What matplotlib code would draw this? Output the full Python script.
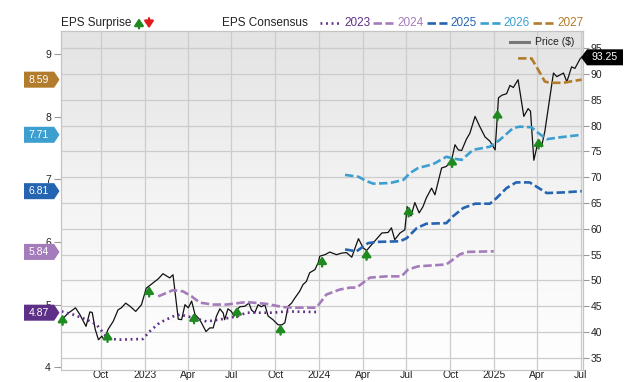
import numpy as np
import pandas as pd
import matplotlib
matplotlib.use('Agg')
import matplotlib.pyplot as plt
import matplotlib.dates as mdates
from matplotlib.lines import Line2D
from matplotlib.patches import Polygon
from matplotlib.colors import LinearSegmentedColormap

plt.rcParams['font.family'] = ['Liberation Sans', 'DejaVu Sans']

# ---- data ----
price_dates = ['2022-07-11', '2022-07-24', '2022-08-09', '2022-08-18', '2022-08-31', '2022-09-08',
               '2022-09-13', '2022-09-19', '2022-09-26', '2022-10-03', '2022-10-08', '2022-10-16',
               '2022-10-27', '2022-11-06', '2022-11-13', '2022-11-22', '2022-12-01', '2022-12-13',
               '2022-12-25', '2023-01-04', '2023-01-11', '2023-01-22', '2023-01-29', '2023-02-08',
               '2023-02-15', '2023-02-22', '2023-03-01', '2023-03-12', '2023-03-19', '2023-03-26',
               '2023-04-02', '2023-04-09', '2023-04-16', '2023-04-26', '2023-05-09', '2023-05-17',
               '2023-05-24', '2023-05-31', '2023-06-07', '2023-06-14', '2023-06-17', '2023-06-24',
               '2023-07-01', '2023-07-07', '2023-07-12', '2023-07-19', '2023-07-29', '2023-08-07',
               '2023-08-12', '2023-08-19', '2023-08-26', '2023-09-02', '2023-09-09', '2023-09-16',
               '2023-09-26', '2023-10-07', '2023-10-15', '2023-10-21', '2023-10-28', '2023-11-04',
               '2023-11-11', '2023-11-21', '2023-11-28', '2023-12-05', '2023-12-12', '2023-12-23',
               '2023-12-30', '2024-01-02', '2024-01-13', '2024-01-23', '2024-02-06', '2024-02-17',
               '2024-02-27', '2024-03-09', '2024-03-23', '2024-04-02', '2024-04-09', '2024-04-23',
               '2024-05-11', '2024-05-24', '2024-05-31', '2024-06-07', '2024-06-18', '2024-06-28',
               '2024-07-03', '2024-07-11', '2024-07-19', '2024-07-28', '2024-08-05', '2024-08-12',
               '2024-08-23', '2024-08-30', '2024-09-13', '2024-09-23', '2024-10-04', '2024-10-11',
               '2024-10-18', '2024-10-25', '2024-11-04', '2024-11-11', '2024-11-22', '2024-12-02',
               '2024-12-13', '2024-12-23', '2025-01-03', '2025-01-10', '2025-01-17', '2025-01-27',
               '2025-02-03', '2025-02-10', '2025-02-20', '2025-03-04', '2025-03-13', '2025-03-18',
               '2025-03-25', '2025-04-03', '2025-04-10', '2025-04-17', '2025-05-05', '2025-05-12',
               '2025-05-26', '2025-06-02', '2025-06-12', '2025-06-19', '2025-06-30', '2025-07-03']
price_vals = [42.4, 43.6, 44.7, 43.4, 41.1, 43.9,
              43.8, 40.6, 38.5, 39.2, 38.5, 40.5,
              42.1, 44.3, 44.7, 45.6, 45.0, 44.0,
              45.3, 48.5, 49.0, 49.8, 50.3, 51.3,
              50.9, 50.5, 51.1, 42.5, 42.4, 45.3,
              44.7, 46.0, 43.4, 42.4, 40.1, 40.8,
              40.8, 43.1, 44.5, 43.7, 42.4, 44.5,
              44.0, 43.1, 44.3, 44.9, 45.0, 45.6,
              44.3, 43.7, 45.3, 44.9, 45.3, 43.1,
              42.4, 41.4, 41.4, 41.8, 45.0, 45.6,
              46.6, 47.9, 49.2, 49.8, 51.5, 52.1,
              53.5, 54.7, 55.0, 55.5, 55.0, 55.3,
              55.4, 54.5, 58.1, 56.3, 55.8, 57.3,
              59.2, 59.3, 60.2, 57.9, 59.2, 59.8,
              64.3, 62.5, 65.1, 63.1, 64.3, 66.0,
              67.9, 66.6, 71.8, 72.1, 73.4, 76.3,
              75.3, 75.2, 77.4, 78.5, 81.8, 79.8,
              77.8, 77.0, 75.3, 85.4, 85.9, 86.2,
              87.8, 87.4, 88.9, 81.8, 83.3, 82.8,
              73.3, 77.0, 75.9, 78.9, 90.2, 89.5,
              90.2, 88.5, 91.4, 91.1, 93.0, 93.25]

eps23_dates = ['2022-07-11', '2022-08-04', '2022-09-01', '2022-09-22', '2022-10-09', '2022-10-23',
               '2022-11-10', '2022-12-28', '2023-01-11', '2023-02-01', '2023-03-01', '2023-03-15',
               '2023-04-12', '2023-05-10', '2023-06-07', '2023-07-12', '2023-08-02', '2023-09-26',
               '2023-10-24', '2023-12-31']
eps23_vals = [4.89, 4.84, 4.76, 4.68, 4.52, 4.45,
              4.44, 4.45, 4.57, 4.71, 4.81, 4.84,
              4.79, 4.73, 4.76, 4.81, 4.87, 4.87,
              4.89, 4.88]

eps24_dates = ['2023-01-29', '2023-03-01', '2023-03-22', '2023-04-09', '2023-04-26', '2023-05-24',
               '2023-06-21', '2023-08-02', '2023-09-13', '2023-10-17', '2023-11-07', '2023-12-26',
               '2024-01-16', '2024-02-13', '2024-03-05', '2024-03-19', '2024-04-16', '2024-05-21',
               '2024-06-21', '2024-07-05', '2024-07-26', '2024-09-23', '2024-10-21', '2024-11-04',
               '2024-12-31']
eps24_vals = [5.13, 5.23, 5.21, 5.13, 5.03, 5.00,
              5.00, 5.04, 5.01, 4.96, 4.95, 4.95,
              5.16, 5.24, 5.27, 5.27, 5.43, 5.45,
              5.45, 5.56, 5.61, 5.64, 5.80, 5.84,
              5.85]

eps25_dates = ['2024-02-24', '2024-03-19', '2024-04-12', '2024-04-30', '2024-06-18', '2024-07-02',
               '2024-07-23', '2024-08-12', '2024-09-23', '2024-10-07', '2024-10-28', '2024-11-22',
               '2024-12-23', '2025-01-06', '2025-01-27', '2025-02-16', '2025-03-16', '2025-03-31',
               '2025-04-21', '2025-05-26', '2025-07-03']
eps25_vals = [5.88, 5.85, 5.98, 6.00, 6.01, 6.06,
              6.22, 6.29, 6.30, 6.41, 6.54, 6.61,
              6.61, 6.70, 6.86, 6.95, 6.95, 6.88,
              6.78, 6.79, 6.81]

eps26_dates = ['2024-02-24', '2024-03-23', '2024-04-09', '2024-04-23', '2024-05-28', '2024-06-25',
               '2024-07-09', '2024-07-26', '2024-08-26', '2024-09-23', '2024-10-07', '2024-10-25',
               '2024-11-18', '2024-12-23', '2025-01-13', '2025-02-10', '2025-02-24', '2025-03-20',
               '2025-04-03', '2025-04-21', '2025-05-19', '2025-07-03']
eps26_vals = [7.07, 7.04, 6.97, 6.93, 6.94, 6.99,
              7.10, 7.18, 7.24, 7.36, 7.33, 7.31,
              7.47, 7.52, 7.63, 7.82, 7.84, 7.83,
              7.74, 7.64, 7.67, 7.71]

eps27_dates = ['2025-02-20', '2025-03-20', '2025-04-03', '2025-04-17', '2025-04-28', '2025-05-26',
               '2025-06-09', '2025-07-03']
eps27_vals = [8.93, 8.93, 8.75, 8.56, 8.54, 8.54, 8.56, 8.59]

surprise_dates = ['2022-07-13', '2022-10-15', '2023-01-10', '2023-04-14', '2023-07-13', '2023-10-12',
                  '2024-01-07', '2024-04-09', '2024-07-06', '2024-10-05', '2025-01-08', '2025-04-04']
surprise_prices = [42.4, 39.1, 47.9, 42.7, 43.9, 40.5, 53.7, 55.0, 63.4, 73.0, 82.1, 76.6]

tick_dates = ['2022-10-01', '2023-01-01', '2023-04-01', '2023-07-01', '2023-10-01', '2024-01-01',
              '2024-04-01', '2024-07-01', '2024-10-01', '2025-01-01', '2025-04-01', '2025-07-01']
tick_labels = ['Oct', '2023', 'Apr', 'Jul', 'Oct', '2024', 'Apr', 'Jul', 'Oct', '2025', 'Apr', 'Jul']

years = ['2023', '2024', '2025', '2026', '2027']
colors = ['#5e2f87', '#a57cbb', '#2564b1', '#3d9fd0', '#b37c2c']
last_eps = ['4.87', '5.84', '6.81', '7.71', '8.59']
last_price = 93.25

# ---- figure ----
fig = plt.figure(figsize=(6.4, 3.82), dpi=100)
ax = fig.add_axes([60.7 / 640, 12.5 / 382, 521.9 / 640, 338.5 / 382])  # price axis (right)
ax2 = ax.twinx()  # eps axis (left)

# background gradient
cmap = LinearSegmentedColormap.from_list('bg', ['#ffffff', '#f4f4f4', '#e3e3e3'])
ax.imshow(np.linspace(0, 1, 256).reshape(-1, 1)[::-1], extent=[0, 1, 0, 1], transform=ax.transAxes,
          cmap=cmap, aspect='auto', zorder=0)

ax.set_xlim(pd.Timestamp('2022-07-09'), pd.Timestamp('2025-07-05'))
ax.set_ylim(32.74, 98.35)
ax2.set_ylim(3.963, 9.367)

ax.set_xticks(pd.to_datetime(tick_dates))
ax.set_xticklabels(tick_labels)
ax.set_yticks(np.arange(35, 96, 5))
ax2.set_yticks(np.arange(4, 10, 1))

ax.yaxis.tick_right()
ax2.yaxis.tick_left()
ax.grid(True, color='#cccccc', lw=0.9, zorder=1)
ax.set_axisbelow(False)

for a in (ax, ax2):
    for s in a.spines.values():
        s.set_color('#c4c4c4')
ax.tick_params(axis='x', length=0, pad=0.5, labelsize=7.5, labelcolor='#222')
ax.tick_params(axis='y', length=4, color='#999', pad=2, labelsize=7.5, labelcolor='#222')
ax2.tick_params(axis='y', length=5, color='#999', pad=2, labelsize=7.5, labelcolor='#222')

# price line
ax.plot(pd.to_datetime(price_dates), price_vals, color='#111111', lw=0.9, zorder=3)

# consensus lines
eps_dates = [eps23_dates, eps24_dates, eps25_dates, eps26_dates, eps27_dates]
eps_vals = [eps23_vals, eps24_vals, eps25_vals, eps26_vals, eps27_vals]
for i in range(5):
    if i == 0:
        ls = (0, (0.7, 1.4))
    else:
        ls = (0, (3.2, 1.3))
    ax2.plot(pd.to_datetime(eps_dates[i]), eps_vals[i], color=colors[i], lw=1.9, linestyle=ls,
             dash_capstyle='butt', zorder=2)

# surprise arrows (on top, in price coordinates)
for d, p in zip(surprise_dates, surprise_prices):
    xd = mdates.date2num(pd.Timestamp(d))
    ax2.annotate('', xy=(xd, p + 1.0), xycoords=ax.transData, xytext=(xd, p - 1.0),
                 textcoords=ax.transData,
                 arrowprops=dict(arrowstyle='-|>,head_width=0.3,head_length=0.45', color='#1f8a1f',
                                 lw=1.7, shrinkA=0, shrinkB=0, mutation_scale=9), zorder=5)

# left value tags
ytr = ax2.get_yaxis_transform()
for i in range(5):
    v = float(last_eps[i])
    h = 0.128
    tag = Polygon([[-0.0703, v - h], [-0.0125, v - h], [-0.0023, v], [-0.0125, v + h], [-0.0703, v + h]],
                  closed=True, transform=ytr, clip_on=False, facecolor=colors[i], edgecolor='none', zorder=6)
    ax2.add_patch(tag)
    ax2.text(-0.0425, v, last_eps[i], transform=ytr, color='white', fontsize=7.5, ha='center',
             va='center', clip_on=False, zorder=7)

# right price tag
ptr = ax.get_yaxis_transform()
h = 1.55
tag = Polygon([[0.9969, last_price], [1.0084, last_price - h], [1.0774, last_price - h],
               [1.0774, last_price + h], [1.0084, last_price + h]],
              closed=True, transform=ptr, clip_on=False, facecolor='black', edgecolor='none', zorder=6)
ax2.add_patch(tag)
ax2.text(1.0430, last_price, '%.2f' % last_price, transform=ptr, color='white', fontsize=7.5,
         ha='center', va='center', clip_on=False, zorder=7)

# price legend inside plot
fig.add_artist(Line2D([510 / 640, 529 / 640], [340 / 382, 340 / 382], color='#777777', lw=2.2))
fig.text(535 / 640, 340 / 382, 'Price ($)', fontsize=7.5, color='#222', va='center')

# header
hy = 358.7
fig.text(61 / 640, hy / 382, 'EPS Surprise', fontsize=8.5, color='#222', va='center')
ax.annotate('', xy=(139, hy + 5), xycoords='figure pixels', xytext=(139, hy - 5),
            textcoords='figure pixels',
            arrowprops=dict(arrowstyle='-|>,head_width=0.3,head_length=0.45', color='#1f8a1f',
                            lw=1.7, shrinkA=0, shrinkB=0, mutation_scale=9))
ax.annotate('', xy=(149, hy - 5), xycoords='figure pixels', xytext=(149, hy + 5),
            textcoords='figure pixels',
            arrowprops=dict(arrowstyle='-|>,head_width=0.3,head_length=0.45', color='#e01b1b',
                            lw=1.7, shrinkA=0, shrinkB=0, mutation_scale=9))
fig.text(222 / 640, hy / 382, 'EPS Consensus', fontsize=8.5, color='#222', va='center')

sample_x = [320, 373, 427, 480, 533]
label_x = [344, 397, 450, 503, 557]
for i in range(5):
    ls = (0, (0.7, 1.4)) if i == 0 else (0, (3.2, 1.3))
    fig.add_artist(Line2D([sample_x[i] / 640, (sample_x[i] + 20) / 640], [hy / 382, hy / 382],
                          color=colors[i], lw=1.9, linestyle=ls))
    fig.text(label_x[i] / 640, hy / 382, years[i], fontsize=8.5, color=colors[i], va='center')

fig.savefig('out.png', dpi=100)
